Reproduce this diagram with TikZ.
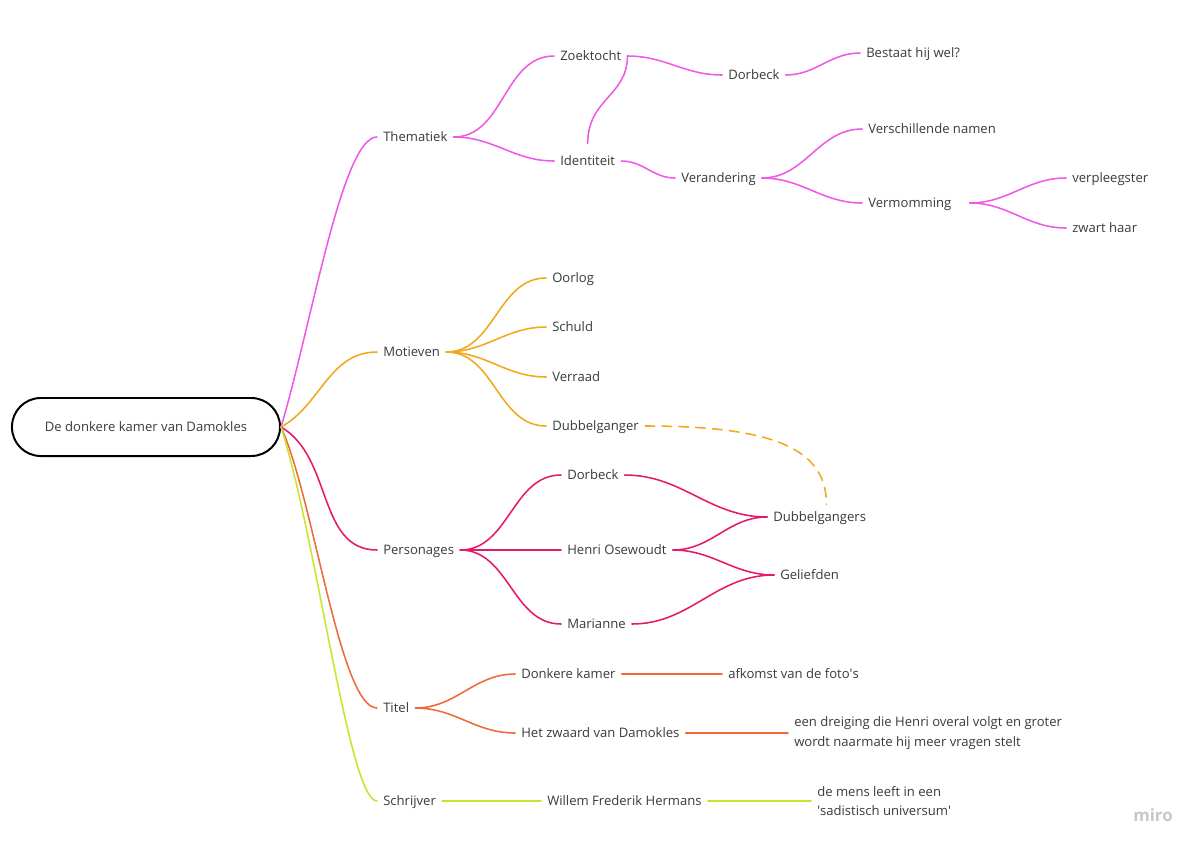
\documentclass[tikz,border=0pt]{standalone}
\usepackage{fontspec}
\setmainfont{Open Sans}
\usetikzlibrary{positioning}
\definecolor{ink}{HTML}{3A3A3A}
\definecolor{thema}{HTML}{EE5AE6}
\definecolor{motief}{HTML}{F3A81C}
\definecolor{persoon}{HTML}{E6186C}
\definecolor{titel}{HTML}{F0683C}
\definecolor{schrijver}{HTML}{C8E42A}

\begin{document}
\begin{tikzpicture}[x=0.025cm, y=-0.025cm,
    item/.style={anchor=west, inner xsep=4.25pt, inner ysep=2pt,
        text height=1.6ex, text depth=.4ex,
        font=\fontsize{9.3}{11.5}\selectfont, text=ink},
    note/.style={anchor=west, inner xsep=4.25pt, align=left,
        font=\fontsize{9.3}{14}\selectfont, text=ink},
    link/.style={line width=1.1pt, line cap=round},
    branch/.style={link, out=0, in=180}]
    \useasboundingbox (0,0) rectangle (1200,848);
    % central topic
    \node[draw=black, line width=1.4pt, rounded corners=0.72cm,
        minimum width=6.7cm, minimum height=1.45cm,
        font=\fontsize{9.3}{11.5}\selectfont, text=ink]
        (root) at (146,427) {De donkere kamer van Damokles};
    % main branches
    \node[item] (them) at (377,137) {Thematiek};
    \node[item] (mot)  at (377,352) {Motieven};
    \node[item] (pers) at (377,550) {Personages};
    \node[item] (tit)  at (377,708) {Titel};
    \node[item] (schr) at (377,801) {Schrijver};
    \draw[link, thema]     (root.east) .. controls +(30,-100) and +(-35,0) .. (them.west);
    \draw[link, motief]    (root.east) .. controls +(40,-22) and +(-48,0) .. (mot.west);
    \draw[link, persoon]   (root.east) .. controls +(52,30) and +(-60,0) .. (pers.west);
    \draw[link, titel]     (root.east) .. controls +(33,73) and +(-37,0) .. (tit.west);
    \draw[link, schrijver] (root.east) .. controls +(36,113) and +(-28,0) .. (schr.west);
    % thematiek
    \node[item] (zoek)    at (554,56)   {Zoektocht};
    \node[item] (ident)   at (554,161)  {Identiteit};
    \node[item] (dorb)    at (722,75)   {Dorbeck};
    \node[item] (bestaat) at (860,53)   {Bestaat hij wel?};
    \node[item] (verand)  at (675,178)  {Verandering};
    \node[item] (namen)   at (862,129)  {Verschillende namen};
    \node[item] (vermom)  at (862,203)  {Vermomming};
    \node[item] (verpl)   at (1066,178) {verpleegster};
    \node[item] (haar)    at (1066,228) {zwart haar};
    \draw[branch, thema] (them.east) to (zoek.west);
    \draw[branch, thema] (them.east) to (ident.west);
    \draw[branch, thema] (zoek.east) to (dorb.west);
    \draw[branch, thema] (dorb.east) to (bestaat.west);
    \draw[branch, thema] (ident.east) to (verand.west);
    \draw[branch, thema] (verand.east) to (namen.west);
    \draw[branch, thema] (verand.east) to (vermom.west);
    \draw[branch, thema] ([xshift=0.3cm]vermom.east) to (verpl.west);
    \draw[branch, thema] ([xshift=0.3cm]vermom.east) to (haar.west);
    \draw[link, thema] (zoek.east) .. controls +(0,40) and +(0,-45) .. ([yshift=0.17cm]ident.north);
    % motieven
    \node[item] (oorlog)  at (546,278) {Oorlog};
    \node[item] (schuld)  at (546,327) {Schuld};
    \node[item] (verraad) at (546,377) {Verraad};
    \node[item] (dubbel)  at (546,426) {Dubbelganger};
    \foreach \m in {oorlog, schuld, verraad, dubbel}
        \draw[branch, motief] (mot.east) to (\m.west);
    % personages
    \node[item] (dorb2)     at (561,475) {Dorbeck};
    \node[item] (henri)     at (561,550) {Henri Osewoudt};
    \node[item] (marianne)  at (561,624) {Marianne};
    \node[item] (dubbels)   at (767,517) {Dubbelgangers};
    \node[item] (geliefden) at (774,575) {Geliefden};
    \draw[branch, persoon] (pers.east) to (dorb2.west);
    \draw[link, persoon] (pers.east) -- (henri.west);
    \draw[branch, persoon] (pers.east) to (marianne.west);
    \draw[branch, persoon] (dorb2.east) to (dubbels.west);
    \draw[branch, persoon] (henri.east) to (dubbels.west);
    \draw[branch, persoon] (henri.east) to (geliefden.west);
    \draw[branch, persoon] (marianne.east) to (geliefden.west);
    \draw[link, motief, dashed, dash pattern=on 7pt off 5pt]
        (dubbel.east) .. controls +(130,0) and +(0,-55) .. ([xshift=0.17cm, yshift=0.05cm]dubbels.north);
    % titel
    \node[item] (donker)   at (515,674) {Donkere kamer};
    \node[item] (zwaard)   at (515,733) {Het zwaard van Damokles};
    \node[item] (afkomst)  at (722,674) {afkomst van de foto\textquotesingle s};
    \node[note] (dreiging) at (788,733) {een dreiging die Henri overal volgt en groter\\wordt naarmate hij meer vragen stelt};
    \draw[branch, titel] (tit.east) to (donker.west);
    \draw[branch, titel] (tit.east) to (zwaard.west);
    \draw[link, titel] (donker.east) -- (afkomst.west);
    \draw[link, titel] (zwaard.east) -- (dreiging.west);
    % schrijver
    \node[item] (wfh)  at (541,801) {Willem Frederik Hermans};
    \node[note] (mens) at (811,801) {de mens leeft in een\\\textquotesingle sadistisch universum\textquotesingle};
    \draw[link, schrijver] (schr.east) -- (wfh.west);
    \draw[link, schrijver] (wfh.east) -- (mens.west);
    % watermark
    \node[text=black!22, font=\fontsize{12}{14}\selectfont\bfseries] (miro) at (1153,815) {miro};
\end{tikzpicture}
\end{document}
